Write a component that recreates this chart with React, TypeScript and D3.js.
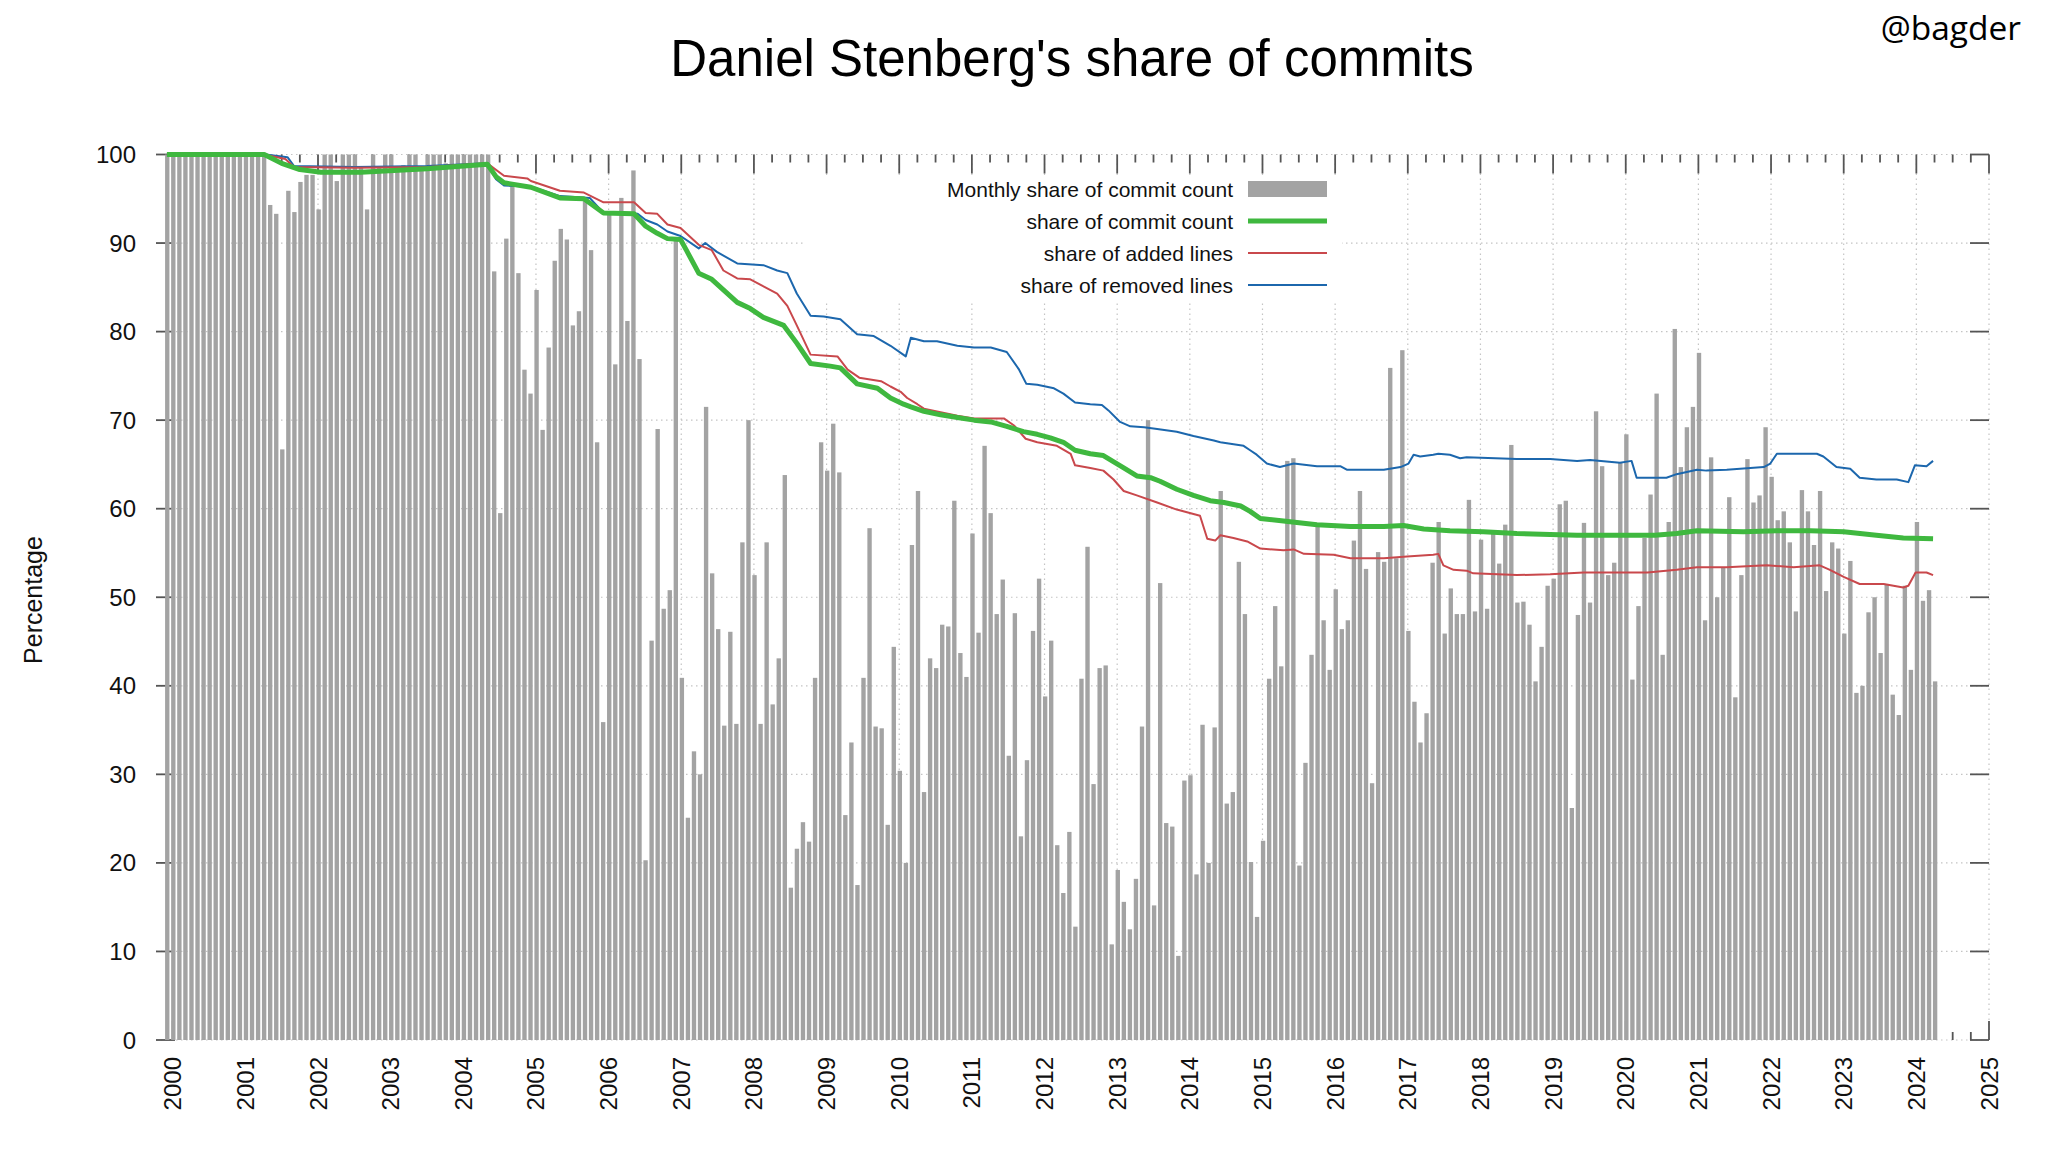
import * as d3 from 'd3'

// monthly share of commit count, Jan 2000 .. May 2024 (one row per year)
const monthlyShare: number[] = [
  100, 100, 100, 100, 100, 100, 100, 100, 100, 100, 100, 100,
  100, 100, 100, 100, 100, 94.3, 93.3, 66.7, 95.9, 93.5, 96.9, 97.7,
  97.7, 93.8, 100, 100, 97.0, 100, 100, 100, 98.5, 93.8, 100, 98.5,
  100, 100, 98.5, 98.8, 100, 100, 98.6, 100, 100, 100, 99.0, 100,
  100, 100, 100, 100, 100, 100, 86.8, 59.5, 90.5, 96.7, 86.6, 75.7,
  73.0, 84.7, 68.9, 78.2, 88.0, 91.6, 90.4, 80.7, 82.3, 94.8, 89.2, 67.5,
  35.9, 93.6, 76.3, 95.1, 81.2, 98.2, 76.9, 20.3, 45.1, 69.0, 48.7, 50.8,
  90.6, 40.9, 25.1, 32.6, 30.0, 71.5, 52.7, 46.4, 35.5, 46.1, 35.7, 56.2,
  70.0, 52.5, 35.7, 56.2, 37.9, 43.1, 63.8, 17.2, 21.6, 24.6, 22.4, 40.9,
  67.5, 64.3, 69.6, 64.1, 25.4, 33.6, 17.5, 40.9, 57.8, 35.4, 35.2, 24.3,
  44.4, 30.4, 20.0, 55.9, 62.0, 28.0, 43.1, 42.0, 46.9, 46.7, 60.9, 43.7,
  41.0, 57.2, 46.0, 67.1, 59.5, 48.1, 52.0, 32.1, 48.2, 23.0, 31.6, 46.2,
  52.1, 38.8, 45.1, 22.0, 16.6, 23.5, 12.8, 40.8, 55.7, 28.9, 42.0, 42.3,
  10.8, 19.2, 15.6, 12.5, 18.2, 35.4, 70.0, 15.2, 51.6, 24.5, 24.1, 9.5,
  29.3, 29.9, 18.7, 35.6, 20.0, 35.3, 62.0, 26.7, 28.0, 54.0, 48.1, 20.1,
  13.9, 22.5, 40.8, 49.0, 42.2, 65.4, 65.7, 19.7, 31.3, 43.5, 58.0, 47.4,
  41.8, 50.9, 46.4, 47.4, 56.4, 62.0, 53.2, 29.0, 55.1, 54.0, 75.9, 54.4,
  77.9, 46.2, 38.2, 33.6, 36.9, 53.9, 58.5, 45.9, 51.0, 48.1, 48.1, 61.0,
  48.4, 56.5, 48.7, 57.2, 53.8, 58.2, 67.2, 49.4, 49.5, 46.9, 40.5, 44.4,
  51.3, 52.1, 60.5, 60.9, 26.2, 48.0, 58.4, 49.4, 71.0, 64.8, 52.5, 53.9,
  65.2, 68.4, 40.7, 49.0, 56.7, 61.6, 73.0, 43.5, 58.5, 80.3, 64.7, 69.2,
  71.5, 77.6, 47.4, 65.8, 50.0, 53.4, 61.3, 38.7, 52.5, 65.6, 60.7, 61.5,
  69.2, 63.6, 58.7, 59.7, 56.2, 48.4, 62.1, 59.7, 55.9, 62.0, 50.7, 56.2,
  55.5, 45.9, 54.1, 39.2, 40.0, 48.3, 50.0, 43.7, 51.5, 39.0, 36.7, 51.3,
  41.8, 58.5, 49.6, 50.8, 40.5,
]

// cumulative shares, [year, percent]
const commitShare: [number, number][] = [
  [1999.92, 100], [2001.26, 100], [2001.5, 99.0], [2001.75, 98.3], [2002.04, 98.0],
  [2002.59, 98.0], [2003.5, 98.4], [2004.33, 98.9], [2004.45, 97.5], [2004.56, 96.8],
  [2004.93, 96.3], [2005.33, 95.1], [2005.66, 95.0], [2005.93, 93.4], [2006.35, 93.3],
  [2006.51, 91.9], [2006.67, 91.1], [2006.81, 90.5], [2006.99, 90.4], [2007.07, 89.2],
  [2007.24, 86.6], [2007.42, 85.9], [2007.77, 83.3], [2007.95, 82.6], [2008.13, 81.6],
  [2008.41, 80.7], [2008.59, 78.7], [2008.78, 76.4], [2009.05, 76.1], [2009.19, 75.9],
  [2009.42, 74.1], [2009.7, 73.6], [2009.88, 72.5], [2010.06, 71.8], [2010.16, 71.5],
  [2010.34, 71.0], [2010.57, 70.6], [2010.8, 70.3], [2011.03, 70.0], [2011.26, 69.8],
  [2011.48, 69.3], [2011.71, 68.7], [2011.9, 68.4], [2012.08, 68.0], [2012.26, 67.5],
  [2012.42, 66.6], [2012.63, 66.2], [2012.81, 66.0], [2013.09, 64.6], [2013.27, 63.7],
  [2013.46, 63.5], [2013.59, 63.1], [2013.82, 62.2], [2014.05, 61.5], [2014.28, 60.9],
  [2014.47, 60.7], [2014.7, 60.3], [2014.83, 59.7], [2014.97, 58.9], [2015.29, 58.6],
  [2015.75, 58.2], [2016.21, 58.0], [2016.67, 58.0], [2016.94, 58.1], [2017.22, 57.7],
  [2017.58, 57.5], [2018.04, 57.4], [2018.5, 57.2], [2018.96, 57.1], [2019.33, 57.0],
  [2019.92, 57.0], [2020.4, 57.0], [2020.7, 57.2], [2020.98, 57.5], [2021.62, 57.4],
  [2022.08, 57.5], [2022.54, 57.5], [2023.0, 57.4], [2023.45, 57.0], [2023.82, 56.7],
  [2024.23, 56.6],
]

const addedShare: [number, number][] = [
  [1999.92, 100], [2001.26, 100], [2001.55, 99.5], [2001.67, 98.6], [2002.5, 98.5],
  [2003.5, 98.6], [2004.33, 99.0], [2004.56, 97.6], [2004.88, 97.3], [2004.93, 97.0],
  [2005.33, 95.9], [2005.66, 95.7], [2005.93, 94.6], [2006.35, 94.6], [2006.51, 93.4],
  [2006.67, 93.3], [2006.81, 92.1], [2006.99, 91.7], [2007.24, 89.8], [2007.42, 89.2],
  [2007.58, 86.9], [2007.77, 86.0], [2007.95, 85.9], [2008.32, 84.3], [2008.46, 82.9],
  [2008.59, 80.7], [2008.78, 77.4], [2009.15, 77.2], [2009.29, 75.7], [2009.45, 74.8],
  [2009.75, 74.4], [2009.88, 73.8], [2010.02, 73.2], [2010.11, 72.5], [2010.25, 71.8],
  [2010.34, 71.3], [2010.57, 70.9], [2010.8, 70.5], [2011.03, 70.2], [2011.44, 70.2],
  [2011.58, 69.4], [2011.74, 67.9], [2011.9, 67.5], [2012.17, 67.1], [2012.36, 66.2],
  [2012.42, 64.9], [2012.63, 64.6], [2012.81, 64.3], [2012.95, 63.3], [2013.09, 62.0],
  [2013.27, 61.5], [2013.55, 60.7], [2013.82, 59.9], [2014.14, 59.2], [2014.24, 56.6],
  [2014.35, 56.4], [2014.42, 57.0], [2014.6, 56.7], [2014.79, 56.3], [2014.97, 55.5],
  [2015.29, 55.3], [2015.43, 55.4], [2015.57, 54.9], [2015.98, 54.8], [2016.21, 54.4],
  [2016.67, 54.4], [2016.99, 54.6], [2017.35, 54.8], [2017.42, 54.9], [2017.49, 53.6],
  [2017.63, 53.1], [2017.81, 53.0], [2017.9, 52.7], [2018.5, 52.5], [2018.96, 52.6],
  [2019.42, 52.8], [2019.92, 52.8], [2020.3, 52.8], [2020.7, 53.1], [2020.98, 53.4],
  [2021.39, 53.4], [2021.94, 53.6], [2022.31, 53.4], [2022.67, 53.6], [2022.81, 53.1],
  [2023.0, 52.3], [2023.22, 51.5], [2023.55, 51.5], [2023.82, 51.1], [2023.89, 51.3],
  [2023.99, 52.8], [2024.14, 52.8], [2024.23, 52.5],
]

const removedShare: [number, number][] = [
  [1999.92, 100], [2001.28, 100], [2001.58, 99.7], [2001.67, 98.7], [2002.5, 98.6],
  [2003.5, 98.7], [2004.33, 99.0], [2004.45, 97.2], [2004.56, 96.5], [2004.93, 96.4],
  [2005.33, 95.3], [2005.74, 95.1], [2005.93, 93.4], [2006.4, 93.3], [2006.51, 92.6],
  [2006.67, 92.1], [2006.81, 91.3], [2006.99, 90.8], [2007.24, 89.4], [2007.33, 90.0],
  [2007.49, 89.0], [2007.77, 87.7], [2008.13, 87.5], [2008.32, 86.9], [2008.46, 86.6],
  [2008.59, 84.3], [2008.78, 81.8], [2008.96, 81.7], [2009.19, 81.4], [2009.42, 79.7],
  [2009.65, 79.5], [2009.88, 78.4], [2010.09, 77.2], [2010.16, 79.3], [2010.34, 78.9],
  [2010.52, 78.9], [2010.8, 78.4], [2011.03, 78.2], [2011.26, 78.2], [2011.48, 77.7],
  [2011.65, 75.7], [2011.75, 74.1], [2011.9, 74.0], [2012.13, 73.6], [2012.26, 73.0],
  [2012.42, 72.0], [2012.63, 71.8], [2012.79, 71.7], [2012.88, 71.1], [2013.04, 69.8],
  [2013.18, 69.3], [2013.37, 69.2], [2013.55, 69.0], [2013.82, 68.7], [2014.05, 68.2],
  [2014.33, 67.7], [2014.42, 67.5], [2014.74, 67.1], [2014.83, 66.6], [2014.92, 66.1],
  [2015.06, 65.1], [2015.24, 64.7], [2015.43, 65.1], [2015.75, 64.8], [2016.07, 64.8],
  [2016.16, 64.4], [2016.67, 64.4], [2016.9, 64.7], [2017.01, 65.1], [2017.08, 66.1],
  [2017.17, 65.9], [2017.35, 66.1], [2017.42, 66.2], [2017.58, 66.1], [2017.72, 65.7],
  [2017.81, 65.8], [2018.5, 65.6], [2018.96, 65.6], [2019.33, 65.4], [2019.51, 65.5],
  [2019.92, 65.2], [2020.08, 65.4], [2020.15, 63.5], [2020.56, 63.5], [2020.7, 63.9],
  [2020.98, 64.4], [2021.11, 64.3], [2021.39, 64.4], [2021.9, 64.7], [2021.99, 65.1],
  [2022.08, 66.2], [2022.35, 66.2], [2022.63, 66.2], [2022.72, 65.9], [2022.9, 64.7],
  [2023.09, 64.5], [2023.22, 63.5], [2023.45, 63.3], [2023.73, 63.3], [2023.89, 63.0],
  [2023.98, 64.9], [2024.14, 64.8], [2024.23, 65.4],
]

const yearTicks = d3.range(2000, 2026)
const percentTicks = d3.range(0, 101, 10)

const legendItems = [
  { label: 'Monthly share of commit count', kind: 'box', color: '#a3a3a3', width: 16 },
  { label: 'share of commit count', kind: 'line', color: '#3fb83f', width: 5 },
  { label: 'share of added lines', kind: 'line', color: '#c9484c', width: 2 },
  { label: 'share of removed lines', kind: 'line', color: '#1c67ad', width: 2 },
]

const W = 2048
const H = 1152
const FONT = '"Liberation Sans", Arial, sans-serif'
const TICK = '#555555'
// gnuplot puts each box ~0.9 month left of its month start
const BAR_SHIFT = 0.9

export default function App() {
  const x = d3.scaleLinear().domain([1999.77, 2025]).range([156, 1989])
  const y = d3.scaleLinear().domain([0, 100]).range([1040, 154.5])
  const [x0, x1] = x.range()
  const [y0, y1] = y.range()

  const line = d3.line<[number, number]>()
    .x((d) => x(d[0]))
    .y((d) => y(d[1]))

  const monthW = x(2000 + 1 / 12) - x(2000)
  const barW = monthW * 0.72

  const minorTicks = d3.range(2000, 2025, 0.25).filter((t) => t % 1 !== 0)

  return (
    <svg width={W} height={H} style={{ position: 'absolute', left: 0, top: 0, background: '#fff' }}
      fontFamily={FONT}>
      <rect width={W} height={H} fill="#fff" />

      {/* grid */}
      <g stroke="#c4c4c4" strokeWidth={1.2} strokeDasharray="1.5,3.5">
        {yearTicks.map((t) => (
          <line key={'gx' + t} x1={x(t)} x2={x(t)} y1={y0} y2={y1} />
        ))}
        {percentTicks.map((t) => (
          <line key={'gy' + t} x1={x0} x2={x1} y1={y(t)} y2={y(t)} />
        ))}
      </g>

      {/* opaque key background hides the grid only */}
      <rect x={806} y={175} width={536} height={127} fill="#fff" />

      {/* tics, mirrored on all sides */}
      <g stroke={TICK} strokeWidth={1.8}>
        {yearTicks.map((t) => (
          <g key={'tx' + t}>
            <line x1={x(t)} x2={x(t)} y1={y1} y2={y1 + 19} />
            <line x1={x(t)} x2={x(t)} y1={y0} y2={y0 - 19} />
          </g>
        ))}
        {minorTicks.map((t) => (
          <g key={'mx' + t}>
            <line x1={x(t)} x2={x(t)} y1={y1} y2={y1 + 8} />
            <line x1={x(t)} x2={x(t)} y1={y0} y2={y0 - 8} />
          </g>
        ))}
        {percentTicks.map((t) => (
          <g key={'ty' + t}>
            <line x1={x0} x2={x0 + 19} y1={y(t)} y2={y(t)} />
            <line x1={x1} x2={x1 - 19} y1={y(t)} y2={y(t)} />
          </g>
        ))}
      </g>

      {/* monthly bars */}
      <g fill="#a3a3a3">
        {monthlyShare.map((v, i) => (
          <rect key={i}
            x={x(2000 + (i - BAR_SHIFT) / 12) - barW / 2}
            y={y(v)}
            width={barW}
            height={y(0) - y(v)} />
        ))}
      </g>

      {/* cumulative lines */}
      <path d={line(removedShare) ?? ''} fill="none" stroke="#1c67ad" strokeWidth={2} strokeLinejoin="round" />
      <path d={line(addedShare) ?? ''} fill="none" stroke="#c9484c" strokeWidth={2} strokeLinejoin="round" />
      <path d={line(commitShare) ?? ''} fill="none" stroke="#3fb83f" strokeWidth={5} strokeLinejoin="round" />

      {/* key */}
      {legendItems.map((d, i) => {
        const cy = 189 + i * 32
        return (
          <g key={d.label}>
            <text x={1233} y={cy} textAnchor="end" dominantBaseline="central" fontSize={21} fill="#111">
              {d.label}
            </text>
            {d.kind === 'box'
              ? <rect x={1248} y={cy - 8} width={79} height={16} fill={d.color} />
              : <line x1={1248} x2={1327} y1={cy} y2={cy} stroke={d.color} strokeWidth={d.width} />}
          </g>
        )
      })}

      {/* axis labels */}
      <g fontSize={24} fill="#111">
        {percentTicks.map((t) => (
          <text key={'ly' + t} x={136} y={y(t)} textAnchor="end" dominantBaseline="central">{t}</text>
        ))}
        {yearTicks.map((t) => (
          <text key={'lx' + t} transform={`translate(${x(t)},1057) rotate(-90)`}
            textAnchor="end" dominantBaseline="central">{t}</text>
        ))}
      </g>

      <text transform="translate(33,600) rotate(-90)" textAnchor="middle" dominantBaseline="central"
        fontSize={25} fill="#111">Percentage</text>

      <text x={1072} y={76} textAnchor="middle" fontSize={51} fill="#000">
        Daniel Stenberg's share of commits
      </text>

      <text x={2021} y={40} textAnchor="end" fontSize={33.5} fill="#000"
        fontFamily='"Open Sans", "Noto Sans", sans-serif'>@bagder</text>
    </svg>
  )
}
